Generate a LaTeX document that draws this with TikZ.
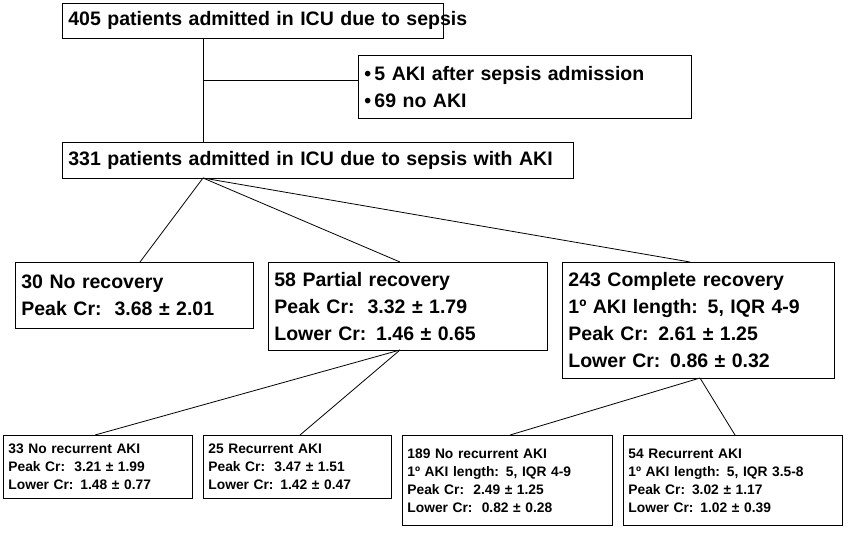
\documentclass[tikz,border=0pt]{standalone}
\usepackage{fontspec}
\setmainfont{Liberation Sans}
\newcommand{\nowrap}[1]{\makebox[0pt][l]{#1}}
\begin{document}
\begin{tikzpicture}[x=1pt,y=-1pt,line width=0.8pt,
 box/.style={draw,anchor=north west,align=left,inner xsep=6pt,inner ysep=1pt,font=\bfseries\fontsize{19.5}{27}\selectfont},
 sbox/.style={box,font=\bfseries\fontsize{13.8}{18}\selectfont,inner xsep=5pt}]
\useasboundingbox (0,0) rectangle (850,533);
\node[box,minimum width=381pt,minimum height=35pt,text width=369pt] (a) at (62,3) {\nowrap{405 patients admitted in ICU due to sepsis}};
\node[box,minimum width=333pt,minimum height=63pt,text width=321pt] (s) at (358,55) {\nowrap{•\,5 AKI after sepsis admission}\\•\,69 no AKI};
\node[box,minimum width=511pt,minimum height=36pt,text width=499pt] (b) at (62,142) {\nowrap{331 patients admitted in ICU due to sepsis with AKI}};
\node[box,minimum width=238pt,minimum height=66pt,text width=226pt] (n) at (15,262) {30 No recovery\\Peak Cr:\ \ 3.68 ± 2.01};
\node[box,minimum width=279pt,minimum height=88pt,text width=267pt] (p) at (268,262) {58 Partial recovery\\Peak Cr:\ \ 3.32 ± 1.79\\Lower Cr: 1.46 ± 0.65};
\node[box,minimum width=272pt,minimum height=116pt,text width=260pt] (c) at (562,262) {243 Complete recovery\\\nowrap{1º AKI length: 5, IQR 4-9}\\Peak Cr: 2.61 ± 1.25\\Lower Cr: 0.86 ± 0.32};
\node[sbox,minimum width=189pt,minimum height=63pt,text width=179pt] (p1) at (3,435) {33 No recurrent AKI\\Peak Cr:\ \ 3.21 ± 1.99\\Lower Cr: 1.48 ± 0.77};
\node[sbox,minimum width=188pt,minimum height=63pt,text width=178pt] (p2) at (203,435) {25 Recurrent AKI\\Peak Cr:\ \ 3.47 ± 1.51\\Lower Cr: 1.42 ± 0.47};
\node[sbox,minimum width=210pt,minimum height=90pt,text width=200pt] (c1) at (402,435) {189 No recurrent AKI\\\nowrap{1º AKI length: 5, IQR 4-9}\\Peak Cr:\ \ 2.49 ± 1.25\\Lower Cr:\ \ 0.82 ± 0.28};
\node[sbox,minimum width=219pt,minimum height=90pt,text width=209pt] (c2) at (623,435) {54 Recurrent AKI\\\nowrap{1º AKI length: 5, IQR 3.5-8}\\Peak Cr: 3.02 ± 1.17\\Lower Cr: 1.02 ± 0.39};
\coordinate (ab) at (203,38);
\coordinate (bt) at (203,142);
\coordinate (j) at (203,80);
\coordinate (bb) at (203,178);
\draw (ab) -- (bt);
\draw (j) -- (j -| s.west);
\draw (bb) -- (140,262);
\draw (bb) -- (400,262);
\draw (bb) -- (690,262);
\draw (400,350) -- (95,435);
\draw (400,350) -- (300,435);
\draw (700,378) -- (510,435);
\draw (700,378) -- (735,435);
\end{tikzpicture}
\end{document}
